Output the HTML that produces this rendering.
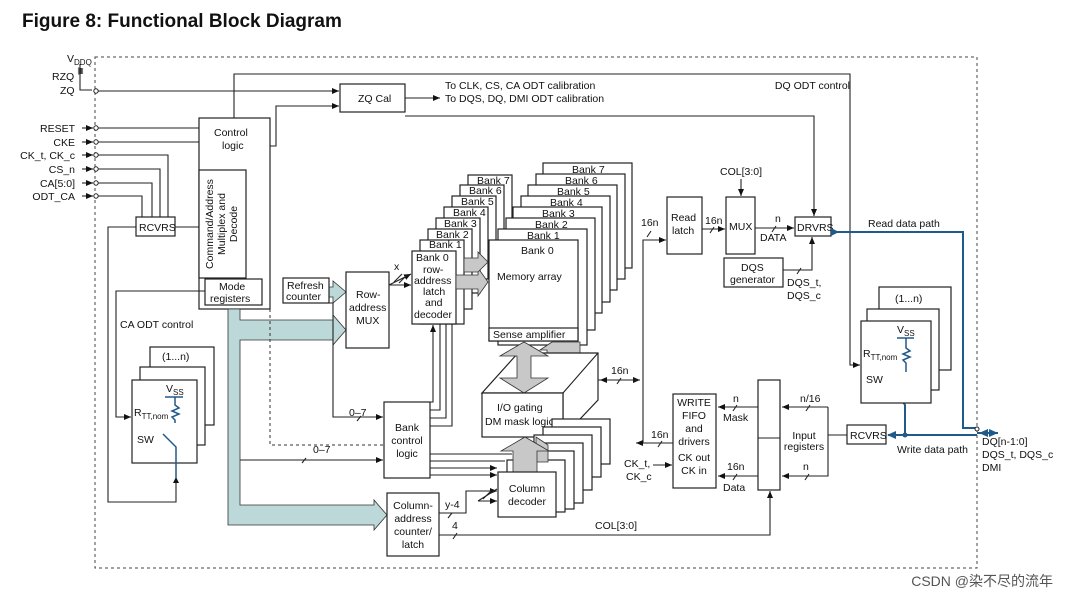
<!DOCTYPE html>
<html><head><meta charset="utf-8"><style>
html,body{margin:0;padding:0;background:#fff;}
svg{display:block;font-family:"Liberation Sans",Arial,sans-serif;}
text{font-size:10.5px;fill:#111;}
.b{fill:#fff;stroke:#222;stroke-width:1.2;}
.l{fill:none;stroke:#222;stroke-width:1.1;}
.bl{fill:none;stroke:#1f5a8a;stroke-width:2;}
.g{fill:#c8c8c8;stroke:#333;stroke-width:0.8;}
.t{fill:#bcd8d8;stroke:#333;stroke-width:0.8;}
</style></head><body>
<svg width="1068" height="601" viewBox="0 0 1068 601">
<defs>
<marker id="a" markerWidth="8" markerHeight="8" refX="7" refY="4" orient="auto" markerUnits="userSpaceOnUse"><path d="M0,1 L7,4 L0,7z" fill="#111"/></marker>
<marker id="ab" markerWidth="10" markerHeight="10" refX="9" refY="5" orient="auto" markerUnits="userSpaceOnUse"><path d="M0,1 L9,5 L0,9z" fill="#1f5a8a"/></marker>
</defs>
<text x="22" y="27" style="font-size:19px;font-weight:bold">Figure 8: Functional Block Diagram</text>
<rect x="95" y="57" width="882" height="511" fill="none" stroke="#444" stroke-dasharray="3,3"/>
<!-- left pins -->
<text x="67" y="62">V<tspan style="font-size:8px" dy="3">DDQ</tspan></text>
<text x="52" y="80">RZQ</text><text x="60" y="94">ZQ</text>
<path class="l" d="M80,64 V90 H92"/>
<path d="M78,68 l5,1 -5,1 5,1 -5,1 5,1 -5,1" class="l"/>
<g text-anchor="end">
<text x="75" y="132">RESET</text><text x="75" y="146">CKE</text><text x="75" y="159">CK_t, CK_c</text>
<text x="75" y="173">CS_n</text><text x="75" y="187">CA[5:0]</text><text x="75" y="200">ODT_CA</text></g>
<g class="l" marker-end="url(#a)">
<path d="M82,128 H93"/><path d="M82,142 H93"/><path d="M82,155 H93"/><path d="M82,169 H93"/><path d="M82,183 H93"/><path d="M82,196 H93"/></g>
<g fill="#fff" stroke="#222"><circle cx="96" cy="91" r="2.2"/><circle cx="96" cy="128" r="2.2"/><circle cx="96" cy="142" r="2.2"/><circle cx="96" cy="155" r="2.2"/><circle cx="96" cy="169" r="2.2"/><circle cx="96" cy="183" r="2.2"/><circle cx="96" cy="196" r="2.2"/></g>
<path class="l" d="M98,91 H339" marker-end="url(#a)"/>
<path class="l" d="M98,128 H199 M98,142 H199"/>
<path class="l" d="M98,155 H168 V217 M98,169 H160 V217 M98,183 H152 V217 M98,196 H142 V217"/>
<!-- ZQ cal -->
<rect class="b" x="340" y="84" width="65" height="28"/><text x="358" y="102">ZQ Cal</text>
<path class="l" d="M405,98 H440" marker-end="url(#a)"/>
<text x="445" y="89">To CLK, CS, CA ODT calibration</text>
<text x="445" y="102">To DQS, DQ, DMI ODT calibration</text>
<text x="850" y="89" text-anchor="end">DQ ODT control</text>
<path class="l" d="M234,118 V74 H850 V365 H860" marker-end="url(#a)"/>
<path class="l" d="M405,116 H814 V216" marker-end="url(#a)"/>
<path class="l" d="M270,146 H276 V106 H339" marker-end="url(#a)"/>
<!-- control logic -->
<rect class="b" x="199" y="118" width="71" height="191"/>
<text x="214" y="136">Control</text><text x="222" y="149">logic</text>
<rect class="b" x="199" y="170" width="47" height="108"/>
<g transform="rotate(-90)" text-anchor="middle"><text x="-224" y="213">Command/Address</text><text x="-224" y="225">Multiplex and</text><text x="-224" y="237">Decode</text></g>
<rect class="b" x="205" y="279" width="57" height="26"/>
<text x="219" y="290">Mode</text><text x="210" y="302">registers</text>
<rect class="b" x="136" y="217" width="39" height="19"/><text x="139" y="231">RCVRS</text>
<path class="l" d="M175,227 H199 M136,227 H108 V502 H176 V481"/>
<path d="M176,477 l-3,6 h6z" fill="#111"/>
<path class="l" d="M205,291 H116 V417 H131" marker-end="url(#a)"/>
<text x="120" y="328">CA ODT control</text>
<!-- left RTT -->
<rect class="b" x="150" y="347" width="64" height="78"/><text x="162" y="360">(1...n)</text>
<rect class="b" x="140" y="367" width="65" height="78"/>
<rect class="b" x="132" y="380" width="65" height="83"/>
<text x="166" y="392">V<tspan style="font-size:8px" dy="3">SS</tspan></text>
<text x="134" y="416">R<tspan style="font-size:8px" dy="3">TT,nom</tspan></text>
<text x="137" y="443">SW</text>
<path class="bl" style="stroke-width:1.5" d="M165,397 H183 M175,397 V405 l4,3 -7,3 7,3 -7,3 3,3 V423 M163,434 L176,447 V478"/>
<!-- teal arrows -->
<path class="t" d="M228,309 V525 H374 V530 L387,515 L374,500 V505 H240 V340 H333 V345 L346,330 L333,315 V320 H240 V309z"/>
<path class="t" d="M329,287 H333 V281 L346,292 L333,303 V297 H329z"/>
<path d="M270,309 V445 H383" fill="none" stroke="#333" stroke-dasharray="3,3"/>
<!-- refresh / row mux -->
<rect class="b" x="283" y="278" width="46" height="25"/><text x="287" y="289">Refresh</text><text x="286" y="300">counter</text>
<rect class="b" x="346" y="272" width="43" height="76"/>
<text x="356" y="298">Row-</text><text x="349" y="311">address</text><text x="356" y="324">MUX</text>
<path class="l" d="M329,303 H333 V417 H383" marker-end="url(#a)"/>
<text x="349" y="416">0–7</text><path class="l" d="M357,421 l4,-5"/>
<path class="l" d="M240,460 H383" marker-end="url(#a)"/>
<text x="313" y="453">0–7</text><path class="l" d="M302,463 l4,-5"/>
<!-- row latch stack -->
<g>
<rect class="b" x="468" y="175" width="44" height="72"/><text x="477" y="184">Bank 7</text>
<rect class="b" x="460" y="185" width="44" height="72"/><text x="469" y="194">Bank 6</text>
<rect class="b" x="452" y="196" width="44" height="72"/><text x="461" y="205">Bank 5</text>
<rect class="b" x="444" y="207" width="44" height="72"/><text x="453" y="216">Bank 4</text>
<rect class="b" x="436" y="218" width="44" height="75"/><text x="444" y="227">Bank 3</text>
<rect class="b" x="428" y="229" width="44" height="80"/><text x="436" y="238">Bank 2</text>
<rect class="b" x="420" y="240" width="44" height="84"/><text x="429" y="248">Bank 1</text>
<rect class="b" x="412" y="251" width="44" height="73"/>
<text x="416" y="261">Bank 0</text><text x="423" y="273">row-</text><text x="414" y="284">address</text><text x="423" y="295">latch</text><text x="425" y="306">and</text><text x="414" y="318">decoder</text>
</g>
<path class="l" d="M389,285 H411" marker-end="url(#a)"/><path class="l" d="M389,285 L411,274" marker-end="url(#a)"/>
<path class="l" d="M394,282 l8,-8 M399,283 l8,-8"/><text x="394" y="270">x</text>
<path class="l" d="M430,402 H433 V325" marker-end="url(#a)"/>
<path class="l" d="M430,410 H440 V324 M430,418 H446 V324 M430,426 H452 V324"/>
<!-- memory array stack -->
<g>
<rect class="b" x="543" y="163" width="89" height="105"/><text x="572" y="173">Bank 7</text>
<rect class="b" x="536" y="174" width="89" height="105"/><text x="565" y="184">Bank 6</text>
<rect class="b" x="528" y="185" width="89" height="105"/><text x="557" y="195">Bank 5</text>
<rect class="b" x="521" y="196" width="89" height="106"/><text x="550" y="206">Bank 4</text>
<rect class="b" x="513" y="207" width="89" height="106"/><text x="542" y="217">Bank 3</text>
<rect class="b" x="506" y="218" width="89" height="112"/><text x="535" y="228">Bank 2</text>
<rect class="b" x="498" y="229" width="89" height="116"/><text x="527" y="239">Bank 1</text>
<rect class="b" x="489" y="240" width="89" height="101"/>
<text x="521" y="254">Bank 0</text><text x="497" y="280">Memory array</text>
<rect class="b" x="489" y="328" width="89" height="13"/><text x="493" y="338">Sense amplifier</text>
</g>
<path class="g" d="M456,275 H478 V268 L488,282 L478,296 V289 H456z"/>
<path class="g" d="M464,258 H478 V252 L488,262 L478,272 H464z"/>
<!-- vertical gray arrows behind -->
<path class="g" d="M552,342 L540,350 H547 V372 H560 L580,355 V342z"/>
<!-- IO gating 3D -->
<path class="b" d="M482,393 L518,353 H598 V400 L563,437 V393z"/>
<path class="l" d="M563,393 L598,353"/>
<!-- sense amp double arrow -->
<path class="g" d="M524,342 L500,356 H517 V378 H500 L524,393 L548,378 H531 V356 H548z"/>
<rect class="b" x="482" y="393" width="81" height="44"/>
<text x="497" y="411">I/O gating</text><text x="485" y="425">DM mask logic</text>
<!-- column decoder stack -->
<g>
<rect class="b" x="552" y="419" width="58" height="45"/>
<rect class="b" x="543" y="427" width="58" height="50"/>
<rect class="b" x="534" y="435" width="58" height="55"/>
<rect class="b" x="525" y="443" width="58" height="60"/>
<rect class="b" x="516" y="451" width="58" height="58"/>
<rect class="b" x="507" y="460" width="58" height="52"/>
</g>
<path class="g" d="M536,437 L548,445 V462 H536z"/>
<path class="g" d="M525,437 L501,451 H513 V472 H537 V451 H549z"/>
<rect class="b" x="498" y="472" width="58" height="45"/>
<text x="527" y="492" text-anchor="middle">Column</text><text x="527" y="505" text-anchor="middle">decoder</text>
<path class="l" d="M430,454 H512 M430,461 H505 M430,468 H497" marker-end="url(#a)"/>
<path class="l" d="M430,475 H497" marker-end="url(#a)"/>
<!-- bank control -->
<rect class="b" x="384" y="402" width="46" height="76"/>
<text x="407" y="431" text-anchor="middle">Bank</text><text x="407" y="444" text-anchor="middle">control</text><text x="407" y="457" text-anchor="middle">logic</text>
<!-- column addr -->
<rect class="b" x="387" y="493" width="52" height="63"/>
<text x="413" y="509" text-anchor="middle">Column-</text><text x="413" y="522" text-anchor="middle">address</text><text x="413" y="535" text-anchor="middle">counter/</text><text x="413" y="548" text-anchor="middle">latch</text>
<path class="l" d="M439,513 H466 V491 H497" marker-end="url(#a)"/><path class="l" d="M478,501 L497,489 M478,501 H497" marker-end="url(#a)"/>
<path class="l" d="M483,499 l8,-8"/>
<text x="445" y="508">y-4</text><path class="l" d="M448,518 l4,-5"/>
<text x="452" y="529">4</text><path class="l" d="M439,535 H770 V491" marker-end="url(#a)"/><path class="l" d="M453,539 l4,-6"/>
<text x="595" y="529">COL[3:0]</text>
<!-- 16n bus -->
<path class="l" d="M598,380 H640" marker-end="url(#a)"/><path class="l" d="M640,380 H600" marker-end="url(#a)"/>
<text x="611" y="374">16n</text><path class="l" d="M617,384 l4,-6"/>
<path class="l" d="M643,443 V240 H666" marker-end="url(#a)"/>
<path class="l" d="M673,443 H636" marker-end="url(#a)"/>
<text x="641" y="226">16n</text><path class="l" d="M647,237 l4,-6"/>
<text x="651" y="438">16n</text><path class="l" d="M658,447 l4,-6"/>
<!-- read path -->
<rect class="b" x="667" y="197" width="35" height="57"/><text x="671" y="221">Read</text><text x="672" y="234">latch</text>
<path class="l" d="M702,229 H725" marker-end="url(#a)"/><text x="705" y="224">16n</text><path class="l" d="M710,233 l4,-6"/>
<rect class="b" x="726" y="197" width="29" height="57"/><text x="729" y="230">MUX</text>
<text x="720" y="175">COL[3:0]</text><path class="l" d="M741,179 V196" marker-end="url(#a)"/>
<path class="l" d="M755,228 H794" marker-end="url(#a)"/><text x="775" y="222">n</text><text x="760" y="241">DATA</text><path class="l" d="M772,232 l4,-6"/>
<rect class="b" x="795" y="217" width="36" height="19"/><text x="797" y="231">DRVRS</text>
<rect class="b" x="724" y="258" width="59" height="29"/><text x="741" y="271">DQS</text><text x="730" y="283">generator</text>
<path class="l" d="M783,270 H812 V237" marker-end="url(#a)"/><path class="l" d="M797,274 l4,-6"/>
<text x="787" y="286">DQS_t,</text><text x="787" y="299">DQS_c</text>
<path class="bl" d="M831,232 H963 V428 H977"/>
<path d="M831,228 l8,4 -8,4z" fill="#1f5a8a"/>
<text x="868" y="227">Read data path</text>
<path class="bl" d="M977,433 H998" marker-end="url(#ab)"/><path class="bl" d="M990,433 H979" marker-end="url(#ab)"/>
<circle cx="977" cy="429" r="2" fill="#fff" stroke="#222"/>
<path class="bl" d="M977,435 H905 M905,435 V405 L894,388 M905,435 H888"/>
<path d="M887,435 l9,-4 v8z" fill="#1f5a8a"/><circle cx="905" cy="435" r="2.5" fill="#1f5a8a"/>
<text x="897" y="453">Write data path</text>
<text x="982" y="445">DQ[n-1:0]</text><text x="982" y="458">DQS_t, DQS_c</text><text x="982" y="471">DMI</text>
<!-- right RTT -->
<rect class="b" x="879" y="287" width="72" height="83"/><text x="895" y="302">(1...n)</text>
<rect class="b" x="867" y="309" width="72" height="81"/>
<rect class="b" x="861" y="321" width="70" height="82"/>
<text x="897" y="333">V<tspan style="font-size:8px" dy="3">SS</tspan></text>
<text x="863" y="357">R<tspan style="font-size:8px" dy="3">TT,nom</tspan></text>
<text x="866" y="383">SW</text>
<path class="bl" style="stroke-width:1.5" d="M897,338 H914 M906,338 V348 l4,3 -7,3 7,3 -7,3 3,3 V372"/>
<!-- write path -->
<rect class="b" x="673" y="394" width="43" height="94"/>
<text x="694" y="406" text-anchor="middle">WRITE</text><text x="694" y="419" text-anchor="middle">FIFO</text><text x="694" y="432" text-anchor="middle">and</text><text x="694" y="445" text-anchor="middle">drivers</text><text x="694" y="461" text-anchor="middle">CK out</text><text x="694" y="474" text-anchor="middle">CK in</text>
<text x="624" y="467">CK_t,</text><text x="626" y="480">CK_c</text><path class="l" d="M653,465 H672" marker-end="url(#a)"/>
<rect class="b" x="758" y="380" width="22" height="110"/><path class="l" d="M758,438 H780"/>
<path class="l" d="M758,407 H718" marker-end="url(#a)"/><text x="733" y="402">n</text><text x="723" y="421">Mask</text><path class="l" d="M733,411 l4,-6"/>
<path class="l" d="M758,476 H718" marker-end="url(#a)"/><text x="727" y="470">16n</text><text x="723" y="491">Data</text><path class="l" d="M733,480 l4,-6"/>
<path class="l" d="M828,407 V476 H782" marker-end="url(#a)"/><path class="l" d="M828,407 H782" marker-end="url(#a)"/>
<text x="800" y="402">n/16</text><path class="l" d="M806,411 l4,-6"/><text x="803" y="470">n</text><path class="l" d="M805,480 l4,-6"/>
<text x="804" y="439" text-anchor="middle">Input</text><text x="804" y="450" text-anchor="middle">registers</text>
<path class="l" d="M828,435 H847"/>
<rect class="b" x="847" y="425" width="39" height="19"/><text x="850" y="439">RCVRS</text>
<text x="1053" y="586" text-anchor="end" style="font-size:14px;fill:#555;font-family:'Liberation Sans','Noto Sans CJK SC',sans-serif">CSDN @染不尽的流年</text>
</svg>
</body></html>
